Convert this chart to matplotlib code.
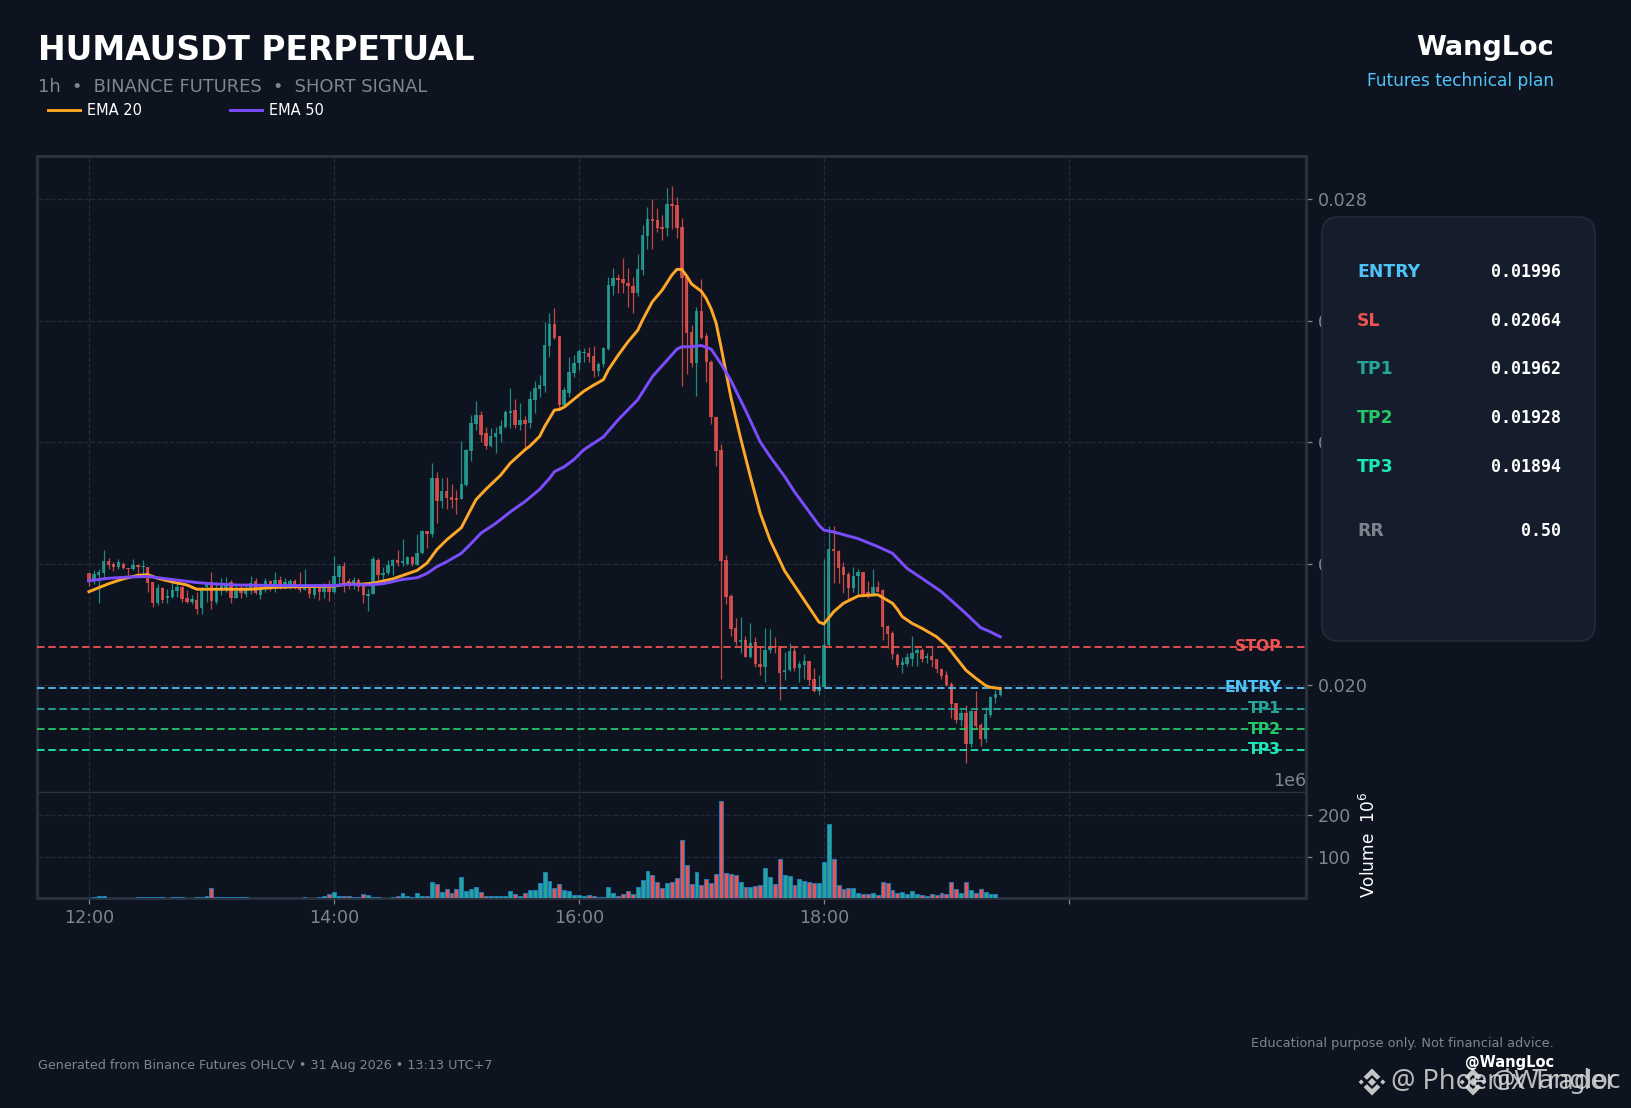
import numpy as np
import matplotlib
matplotlib.use('Agg')
import matplotlib.pyplot as plt
from matplotlib.patches import FancyBboxPatch, Polygon
from matplotlib.ticker import ScalarFormatter

# prices are in units of 0.00001, volumes in millions
opens = [2187,2175,2183,2186,2206,2201,2196,2202,2195,2193,
         2200,2196,2197,2172,2137,2162,2145,2147,2157,2164,
         2145,2139,2143,2129,2163,2172,2139,2160,2162,2172,
         2146,2159,2153,2162,2173,2151,2163,2173,2166,2175,
         2166,2167,2173,2165,2159,2163,2151,2163,2155,2169,
         2156,2180,2198,2173,2168,2175,2167,2149,2152,2208,
         2183,2186,2198,2208,2203,2201,2213,2200,2219,2256,
         2251,2343,2305,2321,2311,2310,2308,2331,2387,2431,
         2446,2417,2395,2410,2415,2426,2450,2454,2430,2438,
         2433,2471,2489,2494,2559,2595,2576,2463,2482,2515,
         2531,2548,2548,2543,2518,2530,2554,2658,2671,2669,
         2663,2658,2647,2684,2740,2768,2766,2755,2753,2792,
         2791,2754,2673,2582,2532,2617,2576,2533,2443,2388,
         2208,2149,2096,2074,2077,2049,2073,2038,2033,2060,
         2067,2067,2024,2027,2059,2031,2036,2042,2012,1993,
         2000,2068,2226,2223,2196,2185,2162,2182,2188,2155,
         2152,2164,2159,2100,2088,2052,2036,2037,2046,2056,
         2060,2047,2050,2045,2029,2019,2004,1973,1945,1957,
         1906,1960,1937,1914,1954,1982,1986]
closes = [2172,2185,2188,2206,2199,2196,2204,2195,2193,2200,
          2196,2198,2171,2137,2162,2143,2149,2158,2164,2144,
          2139,2144,2127,2158,2172,2140,2157,2165,2171,2146,
          2157,2154,2158,2171,2154,2158,2173,2164,2175,2165,
          2172,2173,2164,2158,2165,2152,2163,2156,2163,2155,
          2181,2198,2171,2169,2175,2163,2150,2153,2209,2183,
          2187,2200,2208,2203,2206,2213,2201,2219,2255,2251,
          2343,2305,2321,2310,2306,2306,2333,2389,2433,2446,
          2413,2395,2412,2417,2428,2451,2453,2429,2438,2431,
          2472,2490,2495,2561,2595,2573,2462,2487,2517,2532,
          2551,2550,2542,2518,2530,2556,2659,2671,2667,2662,
          2657,2647,2686,2741,2768,2765,2753,2751,2792,2789,
          2753,2671,2580,2532,2617,2573,2533,2442,2387,2207,
          2148,2095,2074,2077,2049,2071,2037,2033,2061,2067,
          2066,2023,2027,2059,2030,2037,2042,2011,1993,2000,
          2068,2226,2222,2195,2184,2162,2182,2188,2153,2150,
          2164,2156,2098,2086,2053,2035,2040,2048,2056,2060,
          2046,2050,2044,2029,2018,2003,1972,1945,1957,1906,
          1960,1936,1914,1955,1983,1988,1995]
highs = [2187,2191,2194,2224,2212,2205,2209,2204,2195,2209,
         2202,2208,2197,2172,2169,2163,2161,2172,2171,2165,
         2158,2150,2156,2164,2172,2189,2172,2178,2180,2175,
         2165,2165,2165,2182,2178,2167,2178,2175,2189,2181,
         2178,2176,2176,2189,2194,2165,2165,2167,2171,2175,
         2214,2202,2205,2178,2180,2178,2169,2160,2214,2212,
         2196,2208,2210,2224,2243,2214,2214,2250,2257,2256,
         2367,2352,2343,2344,2333,2323,2404,2391,2446,2469,
         2453,2427,2424,2426,2438,2454,2490,2473,2465,2444,
         2485,2502,2512,2599,2614,2621,2576,2492,2541,2544,
         2555,2556,2558,2560,2533,2558,2673,2687,2678,2703,
         2688,2673,2711,2758,2788,2800,2785,2774,2818,2822,
         2803,2769,2673,2594,2623,2670,2580,2537,2443,2398,
         2216,2152,2112,2114,2084,2104,2081,2067,2096,2094,
         2082,2067,2057,2071,2065,2043,2053,2042,2030,2019,
         2209,2263,2264,2224,2205,2189,2196,2193,2189,2173,
         2194,2173,2160,2101,2091,2056,2048,2055,2084,2063,
         2063,2055,2066,2046,2030,2025,2008,1974,1962,1970,
         1962,1993,1940,1967,1985,1995,1999]
lows = [2165,2168,2137,2180,2194,2190,2194,2194,2180,2191,
        2186,2183,2156,2131,2134,2138,2137,2146,2148,2139,
        2137,2136,2120,2119,2139,2127,2136,2150,2156,2137,
        2145,2146,2148,2153,2152,2144,2156,2157,2156,2160,
        2161,2161,2161,2156,2158,2145,2146,2142,2146,2141,
        2153,2169,2156,2161,2161,2157,2138,2125,2152,2175,
        2172,2183,2183,2198,2198,2200,2198,2199,2218,2227,
        2245,2269,2293,2292,2293,2283,2308,2329,2371,2422,
        2402,2391,2393,2384,2401,2424,2424,2424,2422,2388,
        2424,2450,2476,2484,2542,2570,2457,2461,2475,2508,
        2520,2533,2533,2508,2510,2525,2553,2643,2647,2646,
        2623,2613,2642,2675,2718,2719,2747,2734,2740,2752,
        2737,2494,2513,2525,2478,2571,2500,2431,2363,2012,
        2135,2084,2068,2055,2048,2047,2033,2019,2007,2056,
        2056,1979,2011,2025,2026,2008,2012,2003,1992,1986,
        2000,2067,2171,2170,2154,2142,2156,2149,2150,2145,
        2150,2155,2077,2063,2045,2033,2023,2034,2034,2034,
        2041,2039,2033,2023,2012,2001,1949,1940,1936,1874,
        1901,1932,1903,1909,1950,1973,1985]
volumes = [0.5,2,5,5,1,1,1,1,1,1,
           2,2,2,2,2,2,1,2,2,2,
           1,1,2,2,5,24,2,2,2,2,
           2,2,2,1,1,1,1,1,1,1,
           1,1,1,1,2,1,1,2,5,10,
           15,5,4,5,2,2,10,7,2,2,
           1,1,2,5,12,5,2,12,6,6,
           39,34,15,22,11,22,51,17,22,27,
           15,6,6,6,6,6,17,10,6,12,
           20,20,37,63,41,24,34,20,17,7,
           7,5,7,5,2,2,27,12,6,10,
           17,10,27,44,66,56,39,24,37,39,
           49,139,80,34,63,32,46,37,59,234,
           61,59,56,39,27,27,29,32,73,51,
           34,93,56,54,32,46,41,39,37,37,
           88,178,93,32,22,24,24,12,10,10,
           12,7,39,37,20,12,15,10,17,10,
           7,5,10,7,12,10,39,22,12,39,
           20,12,22,15,10,10,1]

ema20_idx = [0,4,7,10,12,14,17,20,22,25,28,33,38,42,50,53,55,58,62,67,69,71,73,76,78,79,81,84,86,89,90,92,93,95,96,97,99,
             101,103,105,106,108,110,112,113,115,117,119,120,121,122,123,125,126,127,128,129,130,131,133,135,137,139,142,146,149,150,
             152,154,157,161,164,165,166,168,170,173,175,179,181,183,184,186]
ema20 = [2156,2169,2177,2183,2184,2178,2172,2167,2160,2160,2160,2160,2163,2164,2165,2169,2168,2170,2177,2191,2203,2225,2241,2261,2292,2307,2324,2347,2367,2389,2395,2411,2427,2454,2455,2459,2472,
         2485,2495,2504,2520,2544,2566,2585,2602,2632,2651,2676,2685,2685,2674,2661,2649,2637,2620,2597,2558,2517,2476,2408,2345,2285,2241,2190,2142,2106,2103,
         2123,2137,2149,2151,2137,2127,2115,2104,2096,2082,2068,2027,2014,2002,1999,1997]
ema50_idx = [0,4,8,12,15,18,22,25,30,40,50,53,57,60,64,67,69,71,73,76,78,80,83,86,89,92,94,95,97,99,101,105,108,112,115,118,120,121,123,125,127,
             129,131,134,137,139,142,144,146,149,150,152,157,161,164,167,170,174,179,182,184,186]
ema50 = [2174,2178,2180,2181,2178,2175,2171,2169,2167,2166,2166,2168,2167,2169,2176,2179,2186,2197,2205,2219,2235,2252,2268,2287,2304,2324,2342,2353,2361,2373,2389,2410,2438,2471,2509,2536,2554,2558,2558,2560,2554,
         2530,2503,2454,2402,2378,2345,2320,2298,2265,2257,2254,2243,2230,2219,2194,2178,2156,2120,2097,2090,2082]

levels = [0.02064, 0.01996, 0.01962, 0.01928, 0.01894]
level_names = ['STOP', 'ENTRY', 'TP1', 'TP2', 'TP3']
level_colors = ['#ef5350', '#4fc3f7', '#26a69a', '#26c76a', '#1de9b6']
panel_names = ['ENTRY', 'SL', 'TP1', 'TP2', 'TP3', 'RR']
panel_values = ['0.01996', '0.02064', '0.01962', '0.01928', '0.01894', '0.50']
panel_colors = ['#4fc3f7', '#ef5350', '#26a69a', '#26c76a', '#1de9b6', '#7d828c']
x_ticks = [0, 50, 100, 150, 200]
x_labels = ['12:00', '14:00', '16:00', '18:00', '']
price_ticks = [0.020, 0.022, 0.024, 0.026, 0.028]
volume_ticks = [100e6, 200e6]


def price(a):
    # values were read with the 0.020 line one pixel low, this puts them back
    return (np.array(a) * 1.00268 - 7.5) * 1e-5


o = price(opens)
c = price(closes)
h = price(highs)
l = price(lows)
v = np.array(volumes) * 1e6
idx = np.arange(len(o))
up = c >= o

BG = '#0d1420'
W, H = 1631, 1108
GREY = '#80858f'
GRID = '#232b38'
BORDER = '#2b323f'
UP = '#26a69a'
DOWN = '#ef5350'


def axes_box(left, top, right, bottom):
    return [left / W, 1 - bottom / H, (right - left) / W, (bottom - top) / H]


fig = plt.figure(figsize=(W / 150, H / 150), dpi=150, facecolor=BG)
ax = fig.add_axes(axes_box(37, 156, 1306, 792), facecolor=BG)
vax = fig.add_axes(axes_box(37, 792, 1306, 898), facecolor=BG, sharex=ax)

# candles
ax.vlines(idx, l, h, colors=[UP if u else DOWN for u in up], linewidth=0.6, alpha=0.8, zorder=2)
ax.bar(idx, np.abs(c - o), bottom=np.minimum(o, c), width=0.7,
       color=[UP if u else DOWN for u in up], alpha=0.8, linewidth=0, zorder=3)

# level lines and their names, the line runs over the name
for val, name, col in zip(levels, level_names, level_colors):
    ax.axhline(val, color=col, linestyle='--', linewidth=0.9, alpha=0.95, dashes=(4, 2), zorder=5)
    ax.text(243.3, val, name, color=col, fontsize=7.5, fontweight='bold', ha='right', va='center', zorder=4)

ax.plot(ema20_idx, price(ema20), color='#ffa726', linewidth=1.4, label='EMA 20', zorder=6, solid_joinstyle='round')
ax.plot(ema50_idx, price(ema50), color='#7c4dff', linewidth=1.4, label='EMA 50', zorder=6, solid_joinstyle='round')

ax.set_xlim(-10.6, 248.4)
ax.set_ylim(0.018246, 0.028713)
ax.set_yticks(price_ticks)
ax.set_yticklabels(['%.3f' % t for t in price_ticks])
ax.yaxis.tick_right()
ax.set_xticks(x_ticks)
ax.tick_params(axis='x', bottom=False, labelbottom=False)
ax.tick_params(axis='y', colors=GREY, labelsize=8.4, length=3, width=0.6, pad=2.5)
ax.grid(True, color=GRID, linestyle='--', linewidth=0.6)
ax.set_axisbelow(True)

leg = ax.legend(loc='lower left', bbox_to_anchor=(0.0087, 1.059), ncol=2, frameon=False,
                fontsize=7, labelcolor='white', columnspacing=6.0, handlelength=2.2,
                handletextpad=0.5, borderaxespad=0, borderpad=0)

# volume
vax.bar(idx, v, width=0.8, color=[UP if u else DOWN for u in up], edgecolor='#1f77b4', linewidth=0.5, zorder=3)
vax.set_ylim(0, 256e6)
vax.yaxis.tick_right()
vax.yaxis.set_label_position('right')
vax.set_yticks(volume_ticks)
fmt = ScalarFormatter(useOffset=False)
fmt.set_powerlimits((6, 6))
vax.yaxis.set_major_formatter(fmt)
vax.yaxis.get_offset_text().set_color(GREY)
vax.yaxis.get_offset_text().set_fontsize(8.4)
vax.set_ylabel('Volume  $10^6$', color='white', fontsize=8.2, labelpad=4)
vax.set_xticks(x_ticks)
vax.set_xticklabels(x_labels)
vax.tick_params(axis='both', colors=GREY, labelsize=8.4, length=3, width=0.6, pad=2.5)
vax.grid(True, color=GRID, linestyle='--', linewidth=0.6)
vax.set_axisbelow(True)

for a in (ax, vax):
    for s in a.spines.values():
        s.set_color(BORDER)
        s.set_linewidth(1.4)
ax.spines['bottom'].set_linewidth(0.6)
vax.spines['top'].set_linewidth(0.6)

# everything outside the axes, in pixel coordinates
top = fig.add_axes([0, 0, 1, 1], zorder=10)
top.set_xlim(0, W)
top.set_ylim(H, 0)
top.axis('off')

top.text(38, 50, 'HUMAUSDT PERPETUAL', color='white', fontsize=15.85, fontweight='bold', va='center')
top.text(38, 87, '1h  •  BINANCE FUTURES  •  SHORT SIGNAL', color=GREY, fontsize=8.6, va='center')
top.text(1554, 48, 'WangLoc', color='white', fontsize=13, fontweight='bold', ha='right', va='center')
top.text(1554, 81, 'Futures technical plan', color='#4fc3f7', fontsize=8.2, ha='right', va='center')

top.add_patch(FancyBboxPatch((1337, 232), 243, 394, boxstyle='round,pad=15,rounding_size=17',
                             facecolor='#151c2b', edgecolor='#252c39', linewidth=0.8, zorder=1))
for name, value, col, y in zip(panel_names, panel_values, panel_colors, [272, 321, 369.5, 418, 467, 531.5]):
    top.text(1357, y, name, color=col, fontsize=8.3, fontweight='bold', va='center', zorder=2)
    top.text(1561, y, value, color='white', fontsize=8, fontweight='bold', family='DejaVu Sans Mono',
             ha='right', va='center', zorder=2)

top.text(38, 1065, 'Generated from Binance Futures OHLCV • 31 Aug 2026 • 13:13 UTC+7', color=GREY, fontsize=6.15, va='center')
top.text(1554, 1044, 'Educational purpose only. Not financial advice.', color=GREY, fontsize=6.2, ha='right', va='center')
top.text(1554, 1063, '@WangLoc', color='white', fontsize=7, fontweight='bold', ha='right', va='center')


def logo(cx, cy, r, col):
    # Binance mark: centre diamond, two side dots, upper and lower chevrons
    for dx, rr in ((0, 0.3), (-0.8, 0.19), (0.8, 0.19)):
        top.add_patch(Polygon([(cx + dx * r - rr * r, cy), (cx + dx * r, cy - rr * r),
                               (cx + dx * r + rr * r, cy), (cx + dx * r, cy + rr * r)],
                              facecolor=col, edgecolor='none', alpha=0.9))
    for sgn in (-1, 1):
        top.add_patch(Polygon([(cx - 0.62 * r, cy + sgn * 0.38 * r), (cx, cy + sgn * 1.0 * r),
                               (cx + 0.62 * r, cy + sgn * 0.38 * r), (cx + 0.38 * r, cy + sgn * 0.16 * r),
                               (cx, cy + sgn * 0.52 * r), (cx - 0.38 * r, cy + sgn * 0.16 * r)],
                              facecolor=col, edgecolor='none', alpha=0.9))


logo(1372, 1082, 13.5, '#d9d9d9')
logo(1473, 1082, 13.5, '#d9d9d9')
top.text(1391, 1082, '@ Phoenix Trader', color='#d9d9d9', fontsize=13, family='Noto Sans', va='center', alpha=0.85)
top.text(1621, 1082, '@Wangloc', color='#d9d9d9', fontsize=12.5, family='Noto Sans', ha='right', va='center', alpha=0.85)

fig.savefig('out.png', dpi=150, facecolor=BG)
